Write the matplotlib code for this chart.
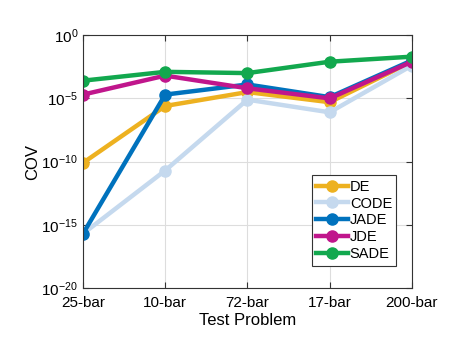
import numpy as np
import matplotlib.pyplot as plt
from matplotlib.ticker import FixedLocator, NullLocator

plt.rcParams['font.family'] = ['Liberation Sans', 'DejaVu Sans']

problems = ['25-bar', '10-bar', '72-bar', '17-bar', '200-bar']
names = ['DE', 'CODE', 'JADE', 'JDE', 'SADE']
colors = ['#EDB120', '#C5D9EE', '#0072BD', '#C0168C', '#12A84E']

# log10 of COV
de = [-10.1, -5.6, -4.5, -5.3, -2.1]
code = [-15.7, -10.7, -5.1, -6.1, -2.4]
jade = [-15.7, -4.7, -3.9, -4.9, -2.0]
jde = [-4.7, -3.2, -4.2, -5.0, -2.1]
sade = [-3.6, -2.9, -3.0, -2.1, -1.7]
series = [de, code, jade, jde, sade]

fig = plt.figure(figsize=(4.74, 3.48), dpi=100)
ax = fig.add_axes([0.175, 0.172, 0.694, 0.727])

x = np.arange(len(problems))
for vals, name, c in zip(series, names, colors):
    ax.plot(x, 10.0 ** np.array(vals), '-o', color=c, lw=3.2, ms=8, label=name)

ax.set_yscale('log')
ax.set_ylim(1e-20, 1e0)
ax.set_xlim(0, len(problems) - 1)
ax.yaxis.set_major_locator(FixedLocator([1e-20, 1e-15, 1e-10, 1e-5, 1e0]))
ax.yaxis.set_minor_locator(NullLocator())
ax.set_xticks(x)
ax.set_xticklabels(problems)
ax.grid(True, color='#dddddd', lw=0.8)
ax.tick_params(direction='in', top=True, right=True, labelsize=11, length=4, color='#333333')
ax.tick_params(axis='x', pad=6)
for s in ax.spines.values():
    s.set_color('#333333')
    s.set_linewidth(0.8)

ax.set_xlabel('Test Problem', fontsize=12, labelpad=2)
ax.set_ylabel('COV', fontsize=12, labelpad=1)

leg = ax.legend(loc='lower right', bbox_to_anchor=(0.975, 0.06), fontsize=10.5, fancybox=False,
                edgecolor='#333333', framealpha=1, handlelength=2.2, handletextpad=0.1,
                labelspacing=0.2, borderpad=0.3)
leg.get_frame().set_linewidth(0.8)

fig.savefig('out.png', dpi=100)
